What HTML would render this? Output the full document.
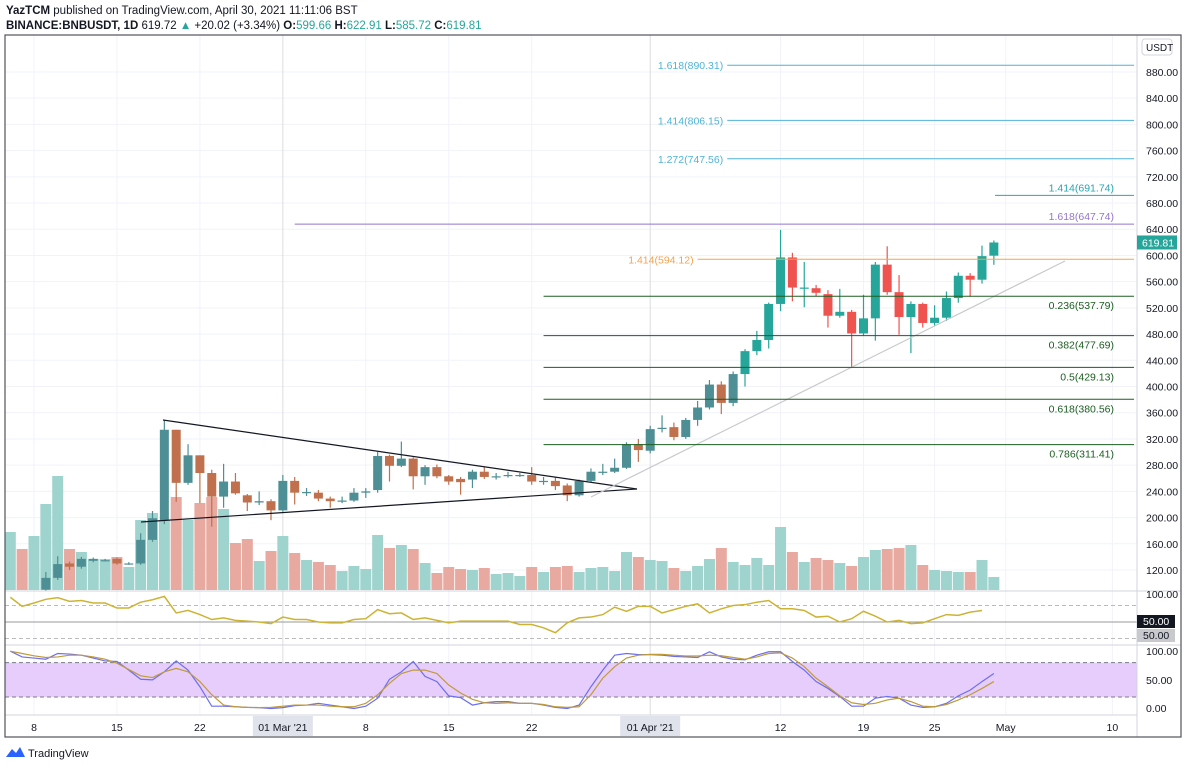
<!DOCTYPE html>
<html><head><meta charset="utf-8">
<style>
html,body{margin:0;padding:0;background:#fff;width:1186px;height:768px;overflow:hidden}
svg text{font-family:"Liberation Sans",sans-serif}
</style></head>
<body>
<svg id="c" width="1186" height="768" viewBox="0 0 1186 768" xmlns="http://www.w3.org/2000/svg">
<text x="6" y="14" font-size="11.5" fill="#131722"><tspan font-weight="bold">YazTCM</tspan> published on TradingView.com, April 30, 2021 11:11:06 BST</text>
<text x="6" y="29" font-size="11.5" fill="#131722"><tspan font-weight="bold">BINANCE:BNBUSDT, 1D</tspan> 619.72 <tspan fill="#26a69a">▲</tspan> +20.02 (+3.34%) <tspan font-weight="bold">O:</tspan><tspan fill="#26a69a">599.66</tspan> <tspan font-weight="bold">H:</tspan><tspan fill="#26a69a">622.91</tspan> <tspan font-weight="bold">L:</tspan><tspan fill="#26a69a">585.72</tspan> <tspan font-weight="bold">C:</tspan><tspan fill="#26a69a">619.81</tspan></text>
<g id="grid"></g>
<g id="volg"></g>
<g id="candles"></g>
<g id="draw"></g>
<g id="ind"></g>
<g id="axes"></g>
<rect x="5" y="35" width="1176" height="702" fill="none" stroke="#50535e" stroke-width="1.2"/>
<g>
<path d="M6 757 L12 749 L16 753 L20 747 L25 757 Z" fill="#2962ff"/>
<text x="28" y="757" font-size="11" fill="#131722">TradingView</text>
</g>
</svg>
<script>
// ---- data ----
const candleDays=[1,2,3,4,5,6,7,8,9,10,11,12,13,14,15,16,17,18,19,20,21,22,23,24,25,26,27,28,29,30,31,32,33,34,35,36,37,38,39,40,41,42,43,44,45,46,47,48,49,50,51,52,53,54,55,56,57,58,59,60,61,62,63,64,65,66,67,68,69,70,71,72,73,74,75,76,77,78,79,80,81];
const opens=[90,108,130,125,134,135,137,130,130,166,196,334,253,295,268,232,255,234,223,225,211,256,238,238,229,226,226,238,242,294,279,290,263,277,263,259,258,270,263,264,265,265,256,256,249,234,256,270,270,276,312,302,337,338,323,349,368,403,375,419,454,471,526,597,551,550,541,508,514,481,504,586,544,506,526,497,505,535,569,563,599.66];
const highs=[117,141,133,140,139,137,139,132,176,210,348,334,312,295,273,282,268,236,240,228,265,262,245,242,232,232,245,245,300,296,316,292,280,281,265,262,273,277,268,270,268,277,262,262,252,258,275,282,290,315,320,340,356,345,352,378,410,408,423,457,485,528,639,604,590,555,547,549,517,540,590,614,570,530,528,524,545,574,573,615,622.91];
const lows=[88,105,120,122,132,133,128,128,128,163,190,224,250,222,186,215,235,210,219,196,209,220,233,225,215,222,224,230,238,255,277,243,250,260,250,235,245,259,258,261,262,250,250,242,225,232,254,265,268,274,285,298,330,318,320,340,365,358,370,400,448,458,515,530,521,538,490,505,430,478,470,540,479,451,490,493,500,528,537,557,585.72];
const closes=[108,129,125,137,137,135,130,130,166,199,334,253,295,268,232,255,237,223,225,211,256,238,239,229,225,226,238,240,294,279,290,263,277,263,255,254,270,262,263,265,265,255,256,248,234,256,270,270,276,312,303,335,337,323,349,368,403,375,419,454,471,526,597,551,551,543,508,514,481,504,586,544,506,526,497,505,535,569,563,599,619.81];
const volDays=[-2,-1,0,1,2,3,4,5,6,7,8,9,10,11,12,13,14,15,16,17,18,19,20,21,22,23,24,25,26,27,28,29,30,31,32,33,34,35,36,37,38,39,40,41,42,43,44,45,46,47,48,49,50,51,52,53,54,55,56,57,58,59,60,61,62,63,64,65,66,67,68,69,70,71,72,73,74,75,76,77,78,79,80,81];
const volumes=[58,41,54,86,114,41,38,31,31,33,23,70,77,70,93,70,87,93,81,47,51,29,39,54,37,30,28,25,19,24,21,55,42,45,41,27,17,23,21,20,22,16,17,14,23,18,23,24,18,22,23,19,38,33,30,29,22,19,24,31,42,28,25,32,25,63,38,28,32,30,27,24,33,40,41,42,45,25,20,19,18,18,30,13];
const rsiDays=volDays;
const rsiValues=[80,69,73,77.5,79.5,75,76,73,73,67,67,74,77,81,61,64,59,53,55,52,51,50,48,56,53,53,50,49,49,53,54,65,60,61,53,55,52,49,51,51,51,51,51,47,47,43,37,49,55,56,59,68,63,69,69,61,65,69,72,61,66,70,71,74,76,66,66,64,56,57,50,54,63,57,50,52,48,49,54,59,58,62,64];
const stochK=[100,90,88,86,96,95,93,88,83,82,67,51,50,64,83,67,38,4,4,3,2,1.5,0,1.5,5,6,9,6,3,0,4,18,51,64,82,56,47,22,19,6,10,12,12,9,9,6,2,0,6,38,67,93,96,94,94,93,91,90,89,99,90,86,85,93,99,99,82,67,47,35,21,4,4,18,21,18,6,2,3,9,22,32,47,61];
const stochD=[100,96,92,89,90,93,93,90,86,79,68,57,54,64,70,64,47,24,6,3,2,1.5,2,4,6,6,6,4,3,3,9,24,44,61,67,67,61,41,27,16,10,9,10,9,9,7,3,2,3,24,53,73,88,93,94.5,94.5,93,91.6,91.6,93,92,89,86,90,96,97,88,73,53,38,22,10,7,9,15,18,12,4,3,7,15,24,35,47];
const priceTicks=[880,840,800,760,720,680,640,600,560,520,480,440,400,360,320,280,240,200,160,120];
const dateTickDays=[0,7,14,21,28,35,42,52,63,70,76,82,91];
const dateTickLabels=["8","15","22","01 Mar '21","8","15","22","01 Apr '21","12","19","25","May","10"];
const fibPrices=[890.31,806.15,747.56,691.74,647.74,594.12,537.79,477.69,429.13,380.56,311.41];
const fibLabels=["1.618(890.31)","1.414(806.15)","1.272(747.56)","1.414(691.74)","1.618(647.74)","1.414(594.12)","0.236(537.79)","0.382(477.69)","0.5(429.13)","0.618(380.56)","0.786(311.41)"];
const fibStartDays=[58.5,58.5,58.5,81.1,22,56,43,43,43,43,43];

// ---- scales ----
const X=d=>34+d*11.85;
const Y=p=>570-(p-120)*0.6553;
const VY=v=>590-v;
const RY=v=>622-(v-50)*0.825;
const SY=v=>708.5-v*0.573;
const NS="http://www.w3.org/2000/svg";
function mk(tag,attrs,parent){const e=document.createElementNS(NS,tag);for(const k in attrs)e.setAttribute(k,attrs[k]);parent.appendChild(e);return e;}
const grid=document.getElementById('grid'),volg=document.getElementById('volg'),cg=document.getElementById('candles'),dg=document.getElementById('draw'),ig=document.getElementById('ind'),ax=document.getElementById('axes');

// grid
priceTicks.forEach(p=>{const l=mk('line',{x1:5,x2:1137,y1:Y(p),y2:Y(p),stroke:'#f0f3fa'},grid);

});
dateTickDays.forEach(d=>{const l=mk('line',{x1:X(d),x2:X(d),y1:35,y2:715,stroke:(d==21||d==52)?'#dcdde0':'#f0f3fa'},grid);

});

// volume
volDays.forEach((d,i)=>{
 const ci=candleDays.indexOf(d);
 const up= ci<0 ? (i!=1) : closes[ci]>=opens[ci];
 const r=mk('rect',{x:X(d)-5.5,y:VY(volumes[i]),width:11,height:volumes[i],fill:up?'#9fd3cd':'#e8a9a0'},volg);
 
 
});

// candles
const clip=mk('clipPath',{id:'pc'},cg);mk('rect',{x:5,y:35,width:1132,height:556},clip);
const cgi=mk('g',{'clip-path':'url(#pc)'},cg);
candleDays.forEach((d,i)=>{
 const up=closes[i]>=opens[i];
 const col=d<60?(up?'#4d8f95':'#c0704c'):(up?'#26a69a':'#ef5350');
 const x=X(d);
 const w=mk('line',{x1:x,x2:x,y1:Y(highs[i]),y2:Y(lows[i]),stroke:col,'stroke-width':1.2},cgi);
 
 
 const t=Y(Math.max(opens[i],closes[i])),b=Y(Math.min(opens[i],closes[i]));
 const r=mk('rect',{x:x-4.5,y:t,width:9,height:Math.max(1.2,b-t),fill:col},cgi);
 
 
});

// drawings: triangle & trend line
[[163,420,637,489],[141,522,637,489]].forEach(s=>{const l=mk('line',{x1:s[0],y1:s[1],x2:s[2],y2:s[3],stroke:'#131722','stroke-width':1.2},dg);

});
const tl=mk('line',{x1:591,y1:497,x2:1065,y2:261,stroke:'#c8c9cc','stroke-width':1.2},dg);



// fib lines
fibPrices.forEach((p,i)=>{
 const lab=fibLabels[i];
 let col='#1b5e20';
 if(i<4) col='#4fb3d9'; if(i==3) col='#26a6b0'; if(i==4) col='#9575cd'; if(i==5) col='#f7a24a';
 const y=Y(p);
 const l=mk('line',{x1:X(fibStartDays[i]),x2:1134,y1:y,y2:y,stroke:col,'stroke-width':1},dg);
 
 
 let t;
 if(i<3||i==5){t=mk('text',{x:X(fibStartDays[i])-4,y:y+4,'font-size':10.5,fill:col,'text-anchor':'end'},dg);}
 else if(i<5){t=mk('text',{x:1114,y:y-4,'font-size':10.5,fill:col,'text-anchor':'end'},dg);}
 else {t=mk('text',{x:1114,y:y+13,'font-size':10.5,fill:col,'text-anchor':'end'},dg);}
 t.textContent=lab;
 
 
});

// pane separators
[591,645].forEach(y=>{const l=mk('line',{x1:5,x2:1181,y1:y,y2:y,stroke:'#d1d4dc'},ig);

});
// RSI pane
[[70,'4 3','#bbb'],[30,'4 3','#bbb'],[50,'','#999']].forEach(a=>{const l=mk('line',{x1:5,x2:1137,y1:RY(a[0]),y2:RY(a[0]),stroke:a[2],'stroke-dasharray':a[1]},ig);

});
const rp=mk('polyline',{points:rsiDays.map((d,i)=>X(d)+','+RY(rsiValues[i])).join(' '),fill:'none',stroke:'#cdb334','stroke-width':1.5},ig);


// Stoch pane
const band=mk('rect',{x:5,y:SY(80),width:1132,height:SY(20)-SY(80),fill:'#e7cdfb'},ig);


[80,20].forEach(v=>{const l=mk('line',{x1:5,x2:1137,y1:SY(v),y2:SY(v),stroke:'#787b86','stroke-dasharray':'4 3'},ig);

});
const sk=mk('polyline',{points:rsiDays.map((d,i)=>X(d)+','+SY(stochK[i])).join(' '),fill:'none',stroke:'#6b6ff0','stroke-width':1.2},ig);


const sd=mk('polyline',{points:rsiDays.map((d,i)=>X(d)+','+SY(stochD[i])).join(' '),fill:'none',stroke:'#c09a3a','stroke-width':1.2},ig);



// axes
const sep=mk('line',{x1:1137,x2:1137,y1:35,y2:737,stroke:'#d1d4dc'},ax);


const ta=mk('line',{x1:5,x2:1137,y1:715,y2:715,stroke:'#d1d4dc'},ax);


priceTicks.forEach(p=>{const t=mk('text',{x:1146,y:Y(p)+4,'font-size':10.5,fill:'#131722'},ax);t.textContent=p.toFixed(2);

});
const ub=mk('rect',{x:1142,y:39,width:30,height:16,rx:3,fill:'#fff',stroke:'#d1d4dc'},ax);


const ut=mk('text',{x:1146,y:51,'font-size':10,fill:'#131722'},ax);ut.textContent='USDT';


const pb=mk('rect',{x:1137,y:Y(619.81)-7,width:40,height:14,fill:'#26a69a'},ax);


const pt=mk('text',{x:1142,y:Y(619.81)+4,'font-size':10.5,fill:'#fff'},ax);pt.textContent='619.81';


// indicator axis labels
[['100.00',598,null],['50.00',625,'#131722'],['50.00',639,'#c8c9cc'],['100.00',655,null],['50.00',684,null],['0.00',712,null]].forEach(a=>{
 if(a[2]){const b=mk('rect',{x:1137,y:a[1]-10,width:38,height:13,fill:a[2]},ax);
 
 }
 const t=mk('text',{x:a[2]?1143:1146,y:a[1],'font-size':10.5,fill:a[2]=='#131722'?'#fff':'#131722'},ax);t.textContent=a[0];
 
 
});
dateTickDays.forEach((d,i)=>{
 const lab=dateTickLabels[i];
 if(lab.length>3){const b=mk('rect',{x:X(d)-30,y:716,width:60,height:20,fill:'#e0e3eb'},ax);
 
 }
 const t=mk('text',{x:X(d),y:731,'font-size':10.5,fill:'#131722','text-anchor':'middle'},ax);t.textContent=lab;
 
 
});
</script>
</body></html>
